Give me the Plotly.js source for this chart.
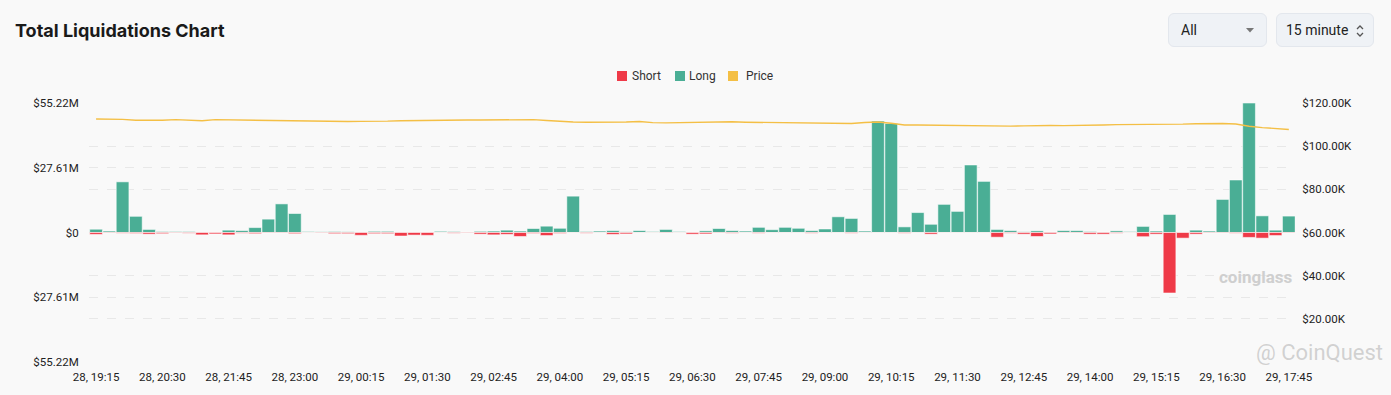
<!DOCTYPE html>
<html>
<head>
<meta charset="utf-8">
<script src="https://cdn.plot.ly/plotly-3.0.1.min.js"></script>
<style>
  html, body { margin: 0; padding: 0; background: #f9f9f9; }
  #wrap { position: relative; width: 1391px; height: 395px; overflow: hidden; background: #f9f9f9; font-family: Roboto, "Open Sans", sans-serif; }
  #chart { position: absolute; left: 0; top: 0; width: 1391px; height: 395px; }
  .sel { position: absolute; top: 13px; height: 34px; border: 1px solid #e3e7ed; border-radius: 6px; background: #eff2f6; box-sizing: border-box; font-size: 14px; color: #222; line-height: 32px; }
  .lg-sq { position: absolute; top: 71px; width: 10px; height: 10px; }
  .lg-tx { position: absolute; top: 68px; font-size: 12px; color: #333; line-height: 16px; }
</style>
</head>
<body>
<div id="wrap">
  <div id="chart"></div>
  <div class="sel" style="left:1168px;width:99px;"><span style="position:absolute;left:12px;">All</span>
    <svg style="position:absolute;left:77px;top:14px" width="8" height="5"><path d="M0,0 L8,0 L4,4.5 Z" fill="#777"/></svg>
  </div>
  <div class="sel" style="left:1276px;width:98px;"><span style="position:absolute;left:9px;">15 minute</span>
    <svg style="position:absolute;left:79px;top:10px" width="8" height="14"><path d="M1,5 L4,2 L7,5 M1,9 L4,12 L7,9" fill="none" stroke="#555" stroke-width="1.3"/></svg>
  </div>
  <div class="lg-sq" style="left:617px;background:#ef3a48;"></div><div class="lg-tx" style="left:632px;">Short</div>
  <div class="lg-sq" style="left:675px;background:#4aae95;"></div><div class="lg-tx" style="left:689px;">Long</div>
  <div class="lg-sq" style="left:728px;background:#f4bf45;"></div><div class="lg-tx" style="left:746px;">Price</div>
</div>
<script>
// ---- data (values in $M for liquidations, $K for price) ----
const startTime = "2025-08-28 19:15";
const barCount = 91;
const longM = [1.4,0.6,21.6,6.9,1.3,0.4,0.4,0.4,0.1,0.1,
  1.0,0.8,2.1,5.7,12.2,8.1,0.4,0.3,0.4,0.3,
  0.1,0.5,0.5,0.05,0.05,0.05,0.5,0.4,0.2,0.5,
  0.6,1.0,0.6,1.7,2.7,1.8,15.5,0.4,0.6,0.8,
  0.3,0.8,0.4,1.3,0.4,0.1,0.7,1.7,0.8,0.6,
  2.2,1.2,2.2,1.8,0.8,1.5,6.7,6.0,0.6,47.5,
  46.5,2.4,8.5,3.5,12.0,9.0,28.8,21.8,1.3,0.8,
  0.3,0.7,0.2,0.8,0.8,0.4,0.2,0.7,0.4,2.6,
  0.6,7.7,0.05,1.0,0.6,14.1,22.4,55.22,7.1,1.0,7.0];
const shortM = [0.8,0.2,0.3,0.4,0.7,0.5,0.2,0.3,1.0,0.6,
  1.0,0.3,0.5,0.2,0.2,0.5,0.1,0.2,0.5,0.5,
  1.2,0.5,0.5,1.5,1.1,1.2,0.1,0.3,0.2,0.7,
  1.0,0.8,1.7,0.4,1.3,0.4,0.1,0.3,0.1,0.8,
  0.6,0.1,0.1,0.2,0.1,0.7,0.6,0.2,0.3,0.1,
  0.3,0.1,0.1,0.1,0.3,0.1,0.1,0.3,0.1,0.1,
  0.1,0.3,0.1,0.7,0.1,0.1,0.1,0.1,2.0,0.3,
  0.7,1.7,0.6,0.2,0.2,0.7,0.7,0.3,0.1,1.8,
  0.7,25.8,2.4,0.7,0.2,0.2,0.3,2.1,2.4,1.3,0.2];
const priceK = [112.6,112.6,112.4,112.0,111.9,112.0,112.3,112.0,111.8,112.3,
  112.2,112.0,112.0,112.0,111.8,111.5,111.5,111.5,111.5,111.4,
  111.5,111.4,111.6,111.8,111.9,112.1,112.2,112.1,112.1,112.1,
  112.2,112.4,112.4,112.3,111.9,111.5,111.2,111.1,111.1,110.9,
  111.2,111.4,110.9,110.8,110.9,111.2,111.2,111.3,111.3,111.1,
  111.0,111.0,110.9,110.9,110.8,110.8,110.6,110.5,111.0,111.2,
  110.6,109.8,109.8,109.7,109.6,109.5,109.4,109.2,109.1,109.3,
  109.4,109.6,109.6,109.5,109.5,109.7,109.8,110.0,110.0,110.0,
  110.1,110.1,110.2,110.4,110.5,110.5,110.3,109.2,108.6,108.2,107.7];
const leftTickVals = [55.22, 27.61, 0, -27.61, -55.22];
const leftTickText = ["$55.22M", "$27.61M", "$0", "$27.61M", "$55.22M"];
const rightTickVals = [20, 40, 60, 80, 100, 120];
const rightTickText = ["$20.00K", "$40.00K", "$60.00K", "$80.00K", "$100.00K", "$120.00K"];

// ---- time categories (15-minute steps) ----
const t0 = new Date(startTime.replace(" ", "T") + ":00Z").getTime();
const STEP = 15 * 60 * 1000;
function fmt(ms) {
  const d = new Date(ms);
  const p = n => String(n).padStart(2, "0");
  return d.getUTCFullYear() + "-" + p(d.getUTCMonth() + 1) + "-" + p(d.getUTCDate()) + " " + p(d.getUTCHours()) + ":" + p(d.getUTCMinutes());
}
const times = [];
for (let i = 0; i < barCount; i++) times.push(fmt(t0 + i * STEP));

const RED = "#ef3a48", GREEN = "#4aae95", GOLD = "#f4bf45";
const barLine = { color: "rgba(255,255,255,0.55)", width: 1 };

const traces = [
  { type: "bar", name: "Long", x: times, y: longM, marker: { color: GREEN, line: barLine }, yaxis: "y", hoverinfo: "x+y" },
  { type: "bar", name: "Short", x: times, y: shortM.map(v => -v), marker: { color: RED, line: barLine }, yaxis: "y", hoverinfo: "x+y" },
  { type: "scatter", mode: "lines", name: "Price", x: times, y: priceK, yaxis: "y2", line: { color: GOLD, width: 1.4 }, hoverinfo: "x+y" }
];

const tickFont = { family: "Roboto, sans-serif", size: 11.5, color: "#222" };
const layout = {
  width: 1391, height: 395,
  paper_bgcolor: "#f9f9f9", plot_bgcolor: "#f9f9f9",
  margin: { l: 89, r: 96, t: 103, b: 33, pad: 0 },
  showlegend: false,
  barmode: "relative",
  bargap: 0.04,
  title: {
    text: "<b>Total Liquidations Chart</b>",
    font: { family: "Inter, Roboto, sans-serif", size: 18, color: "#1a1a1a" },
    xref: "container", yref: "container", x: 15 / 1391, xanchor: "left", y: 1 - 31 / 395, yanchor: "middle"
  },
  xaxis: {
    type: "date",
    range: [fmt(t0 - STEP / 2), fmt(t0 + (barCount - 1) * STEP + STEP / 2)],
    tick0: times[0], dtick: 5 * STEP,
    tickformat: "%d, %H:%M",
    showgrid: false, zeroline: false, showline: false,
    ticks: "outside", ticklen: 4, tickcolor: "rgba(0,0,0,0)",
    tickfont: tickFont
  },
  yaxis: {
    range: [-55.22, 55.22],
    tickvals: leftTickVals, ticktext: leftTickText,
    showgrid: true, gridcolor: "#e8e8e8", griddash: "dash", gridwidth: 1,
    zeroline: false, showline: false,
    ticks: "outside", ticklen: 7, tickcolor: "rgba(0,0,0,0)",
    tickfont: tickFont
  },
  yaxis2: {
    overlaying: "y", side: "right",
    range: [0, 120],
    tickvals: rightTickVals, ticktext: rightTickText,
    showgrid: true, gridcolor: "#e8e8e8", griddash: "dash", gridwidth: 1,
    zeroline: false, showline: false,
    ticks: "outside", ticklen: 4, tickcolor: "rgba(0,0,0,0)",
    tickfont: tickFont
  },
  annotations: [
    { text: "<b>coinglass</b>", xref: "paper", yref: "paper", x: 1, xanchor: "right", y: 0.33, yanchor: "middle",
      showarrow: false, font: { family: "Roboto, sans-serif", size: 17, color: "#cfcfcf" } },
    { text: "@ CoinQuest", xref: "paper", yref: "paper", x: (1385 - 89) / 1206, xanchor: "right", y: (362 - 352) / 259, yanchor: "middle",
      showarrow: false, font: { family: "Roboto, sans-serif", size: 22, color: "rgba(175,175,175,0.55)" } }
  ]
};

Plotly.newPlot("chart", traces, layout, { displayModeBar: false, staticPlot: true });
</script>
</body>
</html>
